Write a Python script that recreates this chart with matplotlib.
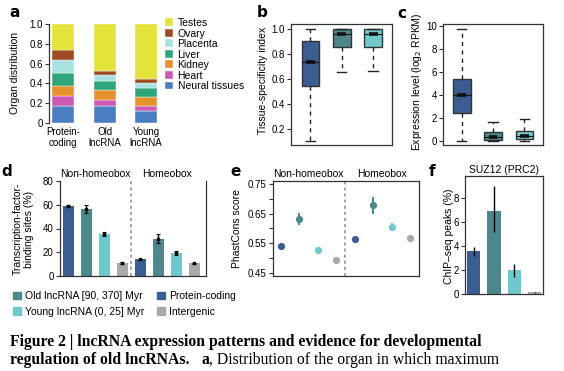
import numpy as np
import matplotlib
matplotlib.use("Agg")
import matplotlib.pyplot as plt
from matplotlib.patches import Patch

plt.rcParams["font.family"] = ["Liberation Sans", "DejaVu Sans"]
plt.rcParams["font.size"] = 7
plt.rcParams["axes.linewidth"] = 0.9
plt.rcParams["axes.edgecolor"] = "#333333"

# ---- data ----
# panel a: organ of maximum expression (bottom to top)
organs = ["Neural tissues", "Heart", "Kidney", "Liver", "Placenta", "Ovary", "Testes"]
organ_colors = ["#4a7ec0", "#cc5ab5", "#e5922a", "#2fa678", "#a9e2e2", "#9e4a22", "#e3e33a"]
gene_types = ["Protein-\ncoding", "Old\nlncRNA", "Young\nlncRNA"]
organ_protein = [0.174, 0.094, 0.108, 0.134, 0.128, 0.100, 0.262]
organ_old = [0.168, 0.067, 0.101, 0.090, 0.061, 0.043, 0.470]
organ_young = [0.124, 0.050, 0.088, 0.090, 0.051, 0.040, 0.557]

# panel b: tissue-specificity index (whislo, q1, med, q3, whishi)
tsi_protein = [0.106, 0.544, 0.734, 0.904, 1.0]
tsi_old = [0.654, 0.858, 0.958, 1.0, 1.0]
tsi_young = [0.660, 0.858, 0.960, 1.0, 1.0]

# panel c: expression level (log2 RPKM)
expr_protein = [0.0, 2.38, 3.95, 5.34, 9.75]
expr_old = [0.0, 0.07, 0.30, 0.73, 1.65]
expr_young = [0.0, 0.15, 0.40, 0.84, 1.90]

classes = ["Protein-coding", "Old lncRNA [90, 370] Myr", "Young lncRNA (0, 25] Myr", "Intergenic"]
class_colors = ["#3a5e91", "#4c878c", "#6ec8cc", "#a9a9ab"]
groups = ["Non-homeobox", "Homeobox"]

# panel d: TF binding sites (%)
tfbs_nonhomeo = [58.9, 56.5, 35.2, 11.0]
tfbs_nonhomeo_err = [0.7, 3.6, 1.8, 0.5]
tfbs_homeo = [14.0, 31.5, 19.6, 10.7]
tfbs_homeo_err = [0.6, 3.6, 1.6, 0.5]

# panel e: PhastCons score
phast_nonhomeo = [0.540, 0.632, 0.528, 0.494]
phast_nonhomeo_err = [0.004, 0.021, 0.010, 0.009]
phast_homeo = [0.564, 0.679, 0.606, 0.569]
phast_homeo_err = [0.008, 0.029, 0.012, 0.006]

# panel f: SUZ12 ChIP-seq peaks (%)
suz12 = [3.57, 6.98, 2.00, 0.15]
suz12_lo = [3.20, 5.20, 1.45, 0.10]
suz12_hi = [3.90, 9.00, 2.55, 0.20]

# ---- figure ----
W, H = 564, 371
fig = plt.figure(figsize=(W / 100, H / 100), dpi=100)


def add_ax(x0, y0, x1, y1):
    return fig.add_axes([x0 / W, 1 - y1 / H, (x1 - x0) / W, (y1 - y0) / H])


def style_ticks(ax):
    ax.tick_params(direction="out", length=3, width=0.8, pad=1.5, labelsize=7, color="#333333")


def ptext(x, y, s, **kw):
    fig.text(x / W, 1 - y / H, s, **kw)


# panel a
ax = add_ax(49, 24, 160, 123)
xa = np.arange(len(gene_types))
bottoms = np.zeros(len(gene_types))
for i, organ in enumerate(organs):
    vals = np.array([organ_protein[i], organ_old[i], organ_young[i]])
    ax.bar(xa, vals, 0.53, bottom=bottoms, color=organ_colors[i],
           edgecolor="white", linewidth=0.3, label=organ)
    bottoms += vals
ax.set_xlim(-0.34, 2.335)
ax.set_ylim(0, 1)
for s in ["top", "right", "bottom"]:
    ax.spines[s].set_visible(False)
ax.spines["left"].set_bounds(0, 1)
ax.set_yticks([0, 0.2, 0.4, 0.6, 0.8, 1.0])
ax.set_yticklabels(["0", "0.2", "0.4", "0.6", "0.8", "1.0"])
ax.set_xticks(xa)
ax.set_xticklabels(gene_types, fontsize=7.5, linespacing=1.05)
style_ticks(ax)
ax.tick_params(axis="x", length=0, pad=3)
h, l = ax.get_legend_handles_labels()
fig.legend(h[::-1], l[::-1], loc="upper left", bbox_to_anchor=(165 / W, 1 - 18 / H),
           frameon=False, fontsize=7.5, handlelength=0.8, handleheight=0.8,
           handletextpad=0.4, labelspacing=0.05, borderpad=0, borderaxespad=0)
ptext(15, 73, "Organ distribution", rotation=90, ha="center", va="center", fontsize=7.5)


def draw_boxes(ax, stats_list, colors):
    stats = [dict(whislo=s[0], q1=s[1], med=s[2], q3=s[3], whishi=s[4], fliers=[])
             for s in stats_list]
    pos = np.arange(1, len(stats) + 1)
    bp = ax.bxp(stats, positions=pos, widths=0.56, patch_artist=True, showfliers=False,
                boxprops=dict(edgecolor="#333333", linewidth=1),
                whiskerprops=dict(color="#222222", linewidth=1, linestyle=(0, (3, 3))),
                capprops=dict(color="#222222", linewidth=1),
                medianprops=dict(color="#111111", linewidth=0.8), capwidths=0.3)
    for patch, c in zip(bp["boxes"], colors):
        patch.set_facecolor(c)
    ax.hlines([s["med"] for s in stats], pos - 0.14, pos + 0.14, color="#111111", linewidth=2.6)
    ax.set_xticks([])


# panel b
ax = add_ax(291, 24, 392, 145)
draw_boxes(ax, [tsi_protein, tsi_old, tsi_young], class_colors[:3])
ax.set_xlim(0.385, 3.6)
ax.set_ylim(0.07, 1.04)
ax.set_yticks([0.2, 0.4, 0.6, 0.8, 1.0])
style_ticks(ax)
ptext(263, 80, "Tissue-specificity index", rotation=90, ha="center", va="center", fontsize=7.5)

# panel c
ax = add_ax(443, 24, 543, 145)
draw_boxes(ax, [expr_protein, expr_old, expr_young], class_colors[:3])
ax.set_xlim(0.4, 3.6)
ax.set_ylim(-0.37, 10.15)
ax.set_yticks([0, 2, 4, 6, 8, 10])
style_ticks(ax)
ptext(417, 82, "Expression level (log$_2$ RPKM)", rotation=90, ha="center", va="center", fontsize=7.5)

# panel d
ax = add_ax(60, 181, 206, 276)
xd = np.arange(8)
tfbs = tfbs_nonhomeo + tfbs_homeo
tfbs_err = tfbs_nonhomeo_err + tfbs_homeo_err
ax.bar(xd, tfbs, 0.61, color=class_colors * 2)
ax.errorbar(xd, tfbs, yerr=tfbs_err, fmt="none", ecolor="black", elinewidth=1, capsize=1.2, capthick=0.8)
ax.plot(xd, tfbs, "s", color="black", ms=1.5)
ax.axvline(3.5, color="#8a8a8a", linestyle=(0, (2, 2)), linewidth=1.1)
ax.set_xlim(-0.47, 7.64)
ax.set_ylim(0, 80)
ax.spines["top"].set_visible(False)
ax.set_xticks([])
ax.set_yticks([0, 20, 40, 60, 80])
style_ticks(ax)
for gx, g in zip([1.5, 5.5], groups):
    ax.text(gx, 1.025, g, transform=ax.get_xaxis_transform(), ha="center", va="bottom", fontsize=7.5)
ptext(23, 229, "Transcription-factor-\nbinding sites (%)", rotation=90, ha="center", va="center",
      fontsize=7.5, linespacing=1.15)

# panel e
ax = add_ax(273, 181, 419, 276)
phast = phast_nonhomeo + phast_homeo
phast_err = phast_nonhomeo_err + phast_homeo_err
for i in range(8):
    ax.errorbar(xd[i], phast[i], yerr=phast_err[i], fmt="o", color=class_colors[i % 4],
                ms=4.2, elinewidth=1.5, capsize=0)
ax.axvline(3.5, color="#8a8a8a", linestyle=(0, (2, 2)), linewidth=1.1)
ax.set_xlim(-0.43, 7.49)
ax.set_ylim(0.439, 0.761)
ax.set_xticks([])
ax.set_yticks([0.45, 0.55, 0.65, 0.75])
ax.set_yticks([0.50, 0.60, 0.70], minor=True)
ax.set_yticklabels(["0.45", "0.55", "0.65", "0.75"])
style_ticks(ax)
ax.tick_params(which="minor", direction="out", length=3, width=0.8, color="#333333")
for gx, g in zip([1.5, 5.5], groups):
    ax.text(gx, 1.025, g, transform=ax.get_xaxis_transform(), ha="center", va="bottom", fontsize=7.5)
ptext(237, 228, "PhastCons score", rotation=90, ha="center", va="center", fontsize=7.5)

# panel f
ax = add_ax(465, 176, 543, 294)
xf = np.arange(4)
ax.bar(xf, suz12, 0.64, color=class_colors)
ax.vlines(xf, suz12_lo, suz12_hi, color="black", linewidth=1)
ax.set_xlim(-0.42, 3.4)
ax.set_ylim(0, 9.87)
ax.set_xticks([])
ax.set_yticks([0, 2, 4, 6, 8])
style_ticks(ax)
ax.set_title("SUZ12 (PRC2)", fontsize=7.5, pad=2.5)
ptext(449, 236, "ChIP\u2013seq peaks (%)", rotation=90, ha="center", va="center", fontsize=7.5)

# legend for d-f
handles = [Patch(color=class_colors[1]), Patch(color=class_colors[2]),
           Patch(color=class_colors[0]), Patch(color=class_colors[3])]
labels = [classes[1], classes[2], classes[0], classes[3]]
fig.legend(handles, labels, ncol=2, loc="upper left", bbox_to_anchor=(13 / W, 1 - 291 / H),
           frameon=False, fontsize=7.5, handlelength=0.75, handleheight=0.7,
           handletextpad=0.4, columnspacing=1.2, labelspacing=0.55, borderpad=0, borderaxespad=0)

# panel letters
for x, y, s in [(15, 17, "a"), (262, 17, "b"), (402, 18, "c"),
                (7, 176, "d"), (236, 176, "e"), (432, 176, "f")]:
    ptext(x, y, s, ha="center", va="baseline", fontsize=11, fontweight="bold", family="DejaVu Sans")

# caption
serif = "Liberation Serif"
cap_size = 11.3
ptext(10, 346, "Figure 2 | lncRNA expression patterns and evidence for developmental",
      ha="left", va="baseline", fontsize=cap_size, fontweight="bold", family=serif)
renderer = fig.canvas.get_renderer()
t1 = fig.text(10 / W, 1 - 364 / H, "regulation of old lncRNAs.", ha="left", va="baseline",
              fontsize=cap_size, fontweight="bold", family=serif)
x1 = t1.get_window_extent(renderer).x1 + 12
t2 = fig.text(x1 / W, 1 - 364 / H, "a", ha="left", va="baseline",
              fontsize=cap_size, fontweight="bold", family=serif)
x2 = t2.get_window_extent(renderer).x1
fig.text(x2 / W, 1 - 364 / H, ", Distribution of the organ in which maximum", ha="left",
         va="baseline", fontsize=cap_size, family=serif)

fig.savefig("out.png", dpi=100)
